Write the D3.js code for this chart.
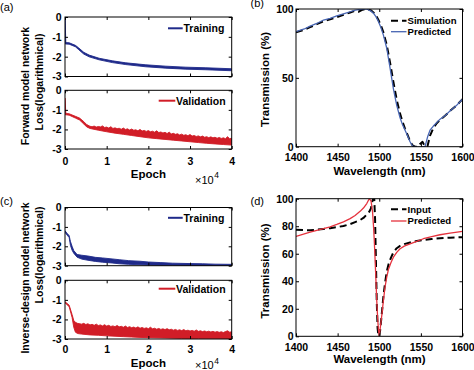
<!DOCTYPE html>
<html><head><meta charset="utf-8">
<script src="https://cdn.jsdelivr.net/npm/d3@7"></script>
<style>body{margin:0;background:#fff}svg{display:block}</style>
</head><body><svg id="c" width="474" height="370"></svg>
<script>
// ---------- DATA ----------
// (a) forward model network loss (epoch in units of 1e4, log10 loss)
const aTrainEpoch = [0,0.02,0.1,0.25,0.33,0.45,0.58,0.82,1.14,1.46,1.94,2.42,2.9,3.38,4.0];
const aTrainHi = [0,-1.29,-1.3,-1.43,-1.56,-1.78,-1.92,-2.08,-2.21,-2.31,-2.41,-2.48,-2.53,-2.56,-2.61];
const aTrainLo = [-1.35,-1.36,-1.37,-1.5,-1.65,-1.87,-2.01,-2.16,-2.3,-2.4,-2.51,-2.58,-2.63,-2.66,-2.71];
const aValHiE = [0,0.02,0.1,0.25,0.35,0.45,0.52,0.6,0.65,0.7,0.75,0.8,0.85,0.9,0.95,1,1.05,1.1,1.15,1.2,1.25,1.3,1.35,1.4,1.45,1.5,1.55,1.6,1.65,1.7,1.75,1.8,1.85,1.9,1.95,2,2.05,2.1,2.15,2.2,2.25,2.3,2.35,2.4,2.45,2.5,2.55,2.6,2.65,2.7,2.75,2.8,2.85,2.9,2.95,3,3.05,3.1,3.15,3.2,3.25,3.3,3.35,3.4,3.45,3.5,3.55,3.6,3.65,3.7,3.75,3.8,3.85,3.9,3.95,4];
const aValHi = [-0.4,-1.18,-1.2,-1.33,-1.42,-1.6,-1.75,
  -1.84,-1.86,-1.83,-1.88,-1.85,-1.87,-1.82,-1.9,-1.88,-1.93,
  -1.86,-1.95,-1.92,-1.96,-1.94,-1.99,-1.93,-2.0,-1.97,-2.03,
  -1.98,-2.04,-2.02,-2.07,-2.0,-2.08,-2.05,-2.1,-2.06,-2.12,
  -2.09,-2.14,-2.07,-2.16,-2.13,-2.18,-2.15,-2.21,-2.14,-2.23,
  -2.2,-2.25,-2.22,-2.28,-2.24,-2.3,-2.27,-2.32,-2.26,-2.34,
  -2.31,-2.36,-2.33,-2.38,-2.34,-2.4,-2.37,-2.42,-2.38,-2.43,
  -2.4,-2.45,-2.41,-2.46,-2.43,-2.47,-2.37,-2.47,-2.45];
const aValLoE = [0,0.02,0.1,0.25,0.35,0.45,0.52,0.6,0.8,1.0,1.2,1.4,1.6,1.8,2.0,2.2,2.4,2.6,2.8,3.0,3.2,3.4,3.6,3.8,4.0];
const aValLo = [-1.25,-1.25,-1.27,-1.42,-1.52,-1.72,-1.87,-1.95,-2.04,-2.12,-2.19,-2.25,-2.31,-2.37,-2.43,-2.47,-2.51,-2.55,-2.59,-2.63,-2.67,-2.71,-2.74,-2.77,-2.8];
// (c) inverse-design model network loss
const cTrainEpoch = [0,0.05,0.1,0.13,0.17,0.21,0.29,0.4,0.55,0.73,0.9,1.13,1.3,1.53,1.8,2.0,2.3,2.58,3.0,3.3,3.6,4.0];
const cTrainHi = [-1.2,-1.33,-1.45,-1.75,-2.0,-2.22,-2.42,-2.46,-2.5,-2.57,-2.6,-2.65,-2.69,-2.74,-2.77,-2.81,-2.84,-2.87,-2.89,-2.9,-2.92,-2.93];
const cTrainLo = [-1.28,-1.42,-1.55,-1.95,-2.2,-2.36,-2.56,-2.66,-2.72,-2.78,-2.82,-2.86,-2.9,-2.93,-2.95,-2.97,-2.98,-2.98,-2.99,-3.0,-3.0,-3.0];
const cValHiE = [0,0.05,0.1,0.17,0.21,0.25,0.3,0.4,0.45,0.5,0.55,0.6,0.65,0.7,0.75,0.8,0.85,0.9,0.95,1,1.05,1.1,1.15,1.2,1.25,1.3,1.35,1.4,1.45,1.5,1.55,1.6,1.65,1.7,1.75,1.8,1.85,1.9,1.95,2,2.05,2.1,2.15,2.2,2.25,2.3,2.35,2.4,2.45,2.5,2.55,2.6,2.65,2.7,2.75,2.8,2.85,2.9,2.95,3,3.05,3.1,3.15,3.2,3.25,3.3,3.35,3.4,3.45,3.5,3.55,3.6,3.65,3.7,3.75,3.8,3.85,3.9,3.95,4];
const cValHi = [-1.1,-1.18,-1.27,-1.75,-2.05,-2.15,-2.2,
  -2.24,-2.2,-2.26,-2.22,-2.28,-2.25,-2.3,-2.24,-2.31,-2.28,
  -2.33,-2.27,-2.34,-2.3,-2.36,-2.33,-2.37,-2.31,-2.38,-2.35,
  -2.4,-2.34,-2.41,-2.37,-2.42,-2.39,-2.44,-2.38,-2.45,-2.41,
  -2.46,-2.43,-2.47,-2.4,-2.48,-2.45,-2.5,-2.46,-2.51,-2.48,
  -2.52,-2.47,-2.53,-2.5,-2.55,-2.51,-2.56,-2.53,-2.57,-2.52,
  -2.58,-2.55,-2.59,-2.56,-2.6,-2.54,-2.61,-2.58,-2.62,-2.59,
  -2.63,-2.6,-2.64,-2.61,-2.65,-2.62,-2.66,-2.63,-2.67,-2.62,
  -2.58,-2.65,-2.63];
const cValLoE = [0,0.05,0.1,0.17,0.21,0.25,0.3,0.4,0.6,0.8,1.0,1.2,1.4,1.6,1.8,2.0,2.4,2.8,3.2,3.6,4.0];
const cValLo = [-1.15,-1.25,-1.35,-1.9,-2.4,-2.65,-2.72,-2.75,-2.79,-2.81,-2.84,-2.86,-2.88,-2.9,-2.92,-2.93,-2.95,-2.97,-2.98,-2.99,-3.0];
// (b) transmission spectra
const bWl = [1400,1410,1417,1425,1433,1441,1449,1457,1465,1470,1475,1480,1485,1490,1493,1496,1499,1502,1505,1509,1513,1517,1521,1525,1528,1531,1534,1537,1540,1543,1546,1549,1552,1555,1558,1561,1565,1569,1573,1580,1585,1592,1600];
const bSim = [83,85,86.8,89,91,92.5,94,95.8,97.5,98.5,98,99.5,100,99,97.5,95.5,92,88,83,74,61,47,34,24,18,13,8.5,4,1,0,0,2,3.5,0,0.5,8,13.5,17,19.5,23,26,29.5,34.5];
const bPred = [83.5,85.5,87.6,89.5,92,93.2,95,96.5,98,99,99.5,100,100,98.5,97,94.5,91,86.5,81,71.5,57,42,30,21,16,12,8,3.6,0.5,0,-0.5,-0.5,0,0,7,12,15,17.5,20,23,26,29.5,34.5];
// (d) transmission spectra
const dWl = [1400,1410,1417,1425,1433,1441,1449,1457,1465,1471,1477,1481,1485,1488,1490,1491,1492,1493,1494,1495,1496,1497,1498,1499,1500,1501,1502,1503,1505,1507,1509,1511,1514,1517,1521,1525,1530,1537,1545,1553,1563,1573,1585,1600];
const dInput = [77.4,77.2,77,77.5,78,78.6,79.3,80.2,81.5,83,84.5,86,88.5,90.5,93,96,99,100,100,85,55,25,6,0.5,0,4,10,16,29,39,47,52,57,61,64,65.7,67,68.2,69.2,70,70.7,71.2,71.7,72];
const dPred = [72.6,74.5,75.7,77,78.2,79.6,81.3,83.2,85.5,87.8,90.8,93.2,96.5,100,98.5,95,90,81,70,56,41,26,14,5,0.5,5,10,15,26,36,43,48.5,53.5,57.5,61,63.6,65.5,67.2,69,70.9,72.5,73.8,75,76.2];
// ticks
const epochTicks = [0,1,2,3,4];
const lossTicks = [-3,-2,-1,0];
const wlTicks = [1400,1450,1500,1550,1600];
const bTicks = [0,50,100];
const dTicks = [0,20,40,60,80,100];

// ---------- DRAW ----------
const FONT = "'Liberation Sans', Arial, Helvetica, sans-serif";
const svg = d3.select("#c");
const defs = svg.append("defs");
let clipN = 0;
const C_NAVY = "#1f2a8a", C_RED = "#d11d27", C_BLUE = "#4765b3", C_RED2 = "#e5323d";

function clipFor(x, y) {
  const id = "clip" + (clipN++);
  const [x0, x1] = x.range(), [y1, y0] = y.range();
  defs.append("clipPath").attr("id", id).append("rect")
    .attr("x", x0).attr("y", y0).attr("width", x1 - x0).attr("height", y1 - y0);
  return "url(#" + id + ")";
}

function boxAxes(g, x, y, xt, yt, opt) {
  const style = sel => sel.attr("font-family", FONT).attr("font-size", 10.5).attr("font-weight", "bold")
    .call(s => s.select(".domain").remove())
    .call(s => s.selectAll(".tick line").attr("stroke", "#000"))
    .call(s => s.selectAll(".tick text").attr("fill", "#000"));
  const [x0, x1] = x.range(), [y1, y0] = y.range();
  g.append("g").attr("transform", `translate(0,${y1})`)
    .call(d3.axisBottom(x).tickValues(xt).tickSizeInner(-3).tickSizeOuter(0).tickPadding(opt.xpad || 3)
      .tickFormat(opt.xlabels ? (d => String(d)) : (() => ""))).call(style);
  g.append("g").attr("transform", `translate(0,${y0})`)
    .call(d3.axisTop(x).tickValues(xt).tickSizeInner(-3).tickSizeOuter(0).tickFormat(() => "")).call(style);
  g.append("g").attr("transform", `translate(${x0},0)`)
    .call(d3.axisLeft(y).tickValues(yt).tickSizeInner(-3).tickSizeOuter(0).tickPadding(opt.ypad)
      .tickFormat(d => String(d))).call(style);
  g.append("g").attr("transform", `translate(${x1},0)`)
    .call(d3.axisRight(y).tickValues(yt).tickSizeInner(-3).tickSizeOuter(0).tickFormat(() => "")).call(style);
  g.append("rect").attr("x", x0).attr("y", y0).attr("width", x1 - x0).attr("height", y1 - y0)
    .attr("fill", "none").attr("stroke", "#000").attr("stroke-width", 1);
}

// filled band between an upper envelope and a lower envelope (each with its own x samples)
function band(g, x, y, hiE, hi, loE, lo, color, clip) {
  const up = hiE.map((e, i) => [x(e), y(hi[i])]);
  const dn = loE.map((e, i) => [x(e), y(lo[i])]).reverse();
  g.append("path").attr("clip-path", clip)
    .attr("d", d3.line()(up.concat(dn)) + "Z")
    .attr("fill", color).attr("stroke", color).attr("stroke-width", 0.9).attr("stroke-linejoin", "round");
}

function curve(g, x, y, xs, ys, color, w, dash, clip) {
  const data = xs.map((v, i) => [v, ys[i]]);
  g.append("path").datum(data).attr("clip-path", clip)
    .attr("d", d3.line().x(d => x(d[0])).y(d => y(d[1])))
    .attr("fill", "none").attr("stroke", color).attr("stroke-width", w)
    .attr("stroke-dasharray", dash || null).attr("stroke-linejoin", "round");
}

function text(g, str, x, y, size, weight, anchor, rot) {
  const t = g.append("text").attr("font-family", FONT).attr("font-size", size)
    .attr("font-weight", weight).attr("text-anchor", anchor || "start").attr("fill", "#000").text(str);
  if (rot) t.attr("transform", `translate(${x},${y}) rotate(${rot})`);
  else t.attr("x", x).attr("y", y);
  return t;
}

function legendLine(g, x1, x2, y, color, w, dash) {
  g.append("line").attr("x1", x1).attr("x2", x2).attr("y1", y).attr("y2", y)
    .attr("stroke", color).attr("stroke-width", w).attr("stroke-dasharray", dash || null);
}

function lossPanel(P) {
  const g = svg.append("g");
  const x = d3.scaleLinear().domain([0, 4]).range([P.x0, P.x1]);
  const yT = d3.scaleLinear().domain([-3, 0]).range([P.top[1], P.top[0]]);
  const yB = d3.scaleLinear().domain([-3, 0]).range([P.bot[1], P.bot[0]]);
  band(g, x, yT, P.trE, P.trHi, P.trE, P.trLo, C_NAVY, clipFor(x, yT));
  band(g, x, yB, P.vaHiE, P.vaHi, P.vaLoE, P.vaLo, C_RED, clipFor(x, yB));
  boxAxes(g, x, yT, epochTicks, lossTicks, { ypad: 3.5, xlabels: false });
  boxAxes(g, x, yB, epochTicks, lossTicks, { ypad: 3.5, xlabels: true, xpad: P.xpad });
  // legends
  legendLine(g, 168, 182.7, P.legT, C_NAVY, 2);
  text(g, "Training", 183.5, P.legT + 3.8, 10.5, "bold");
  legendLine(g, 158.7, 175.3, P.legB, C_RED, 2);
  text(g, "Validation", 176, P.legB + 3.8, 10.5, "bold");
  // labels
  text(g, "Epoch", (P.x0 + P.x1) / 2, P.epochY, 11.5, "bold", "middle");
  const e = text(g, "×10", 195, P.expY, 11, "normal");
  e.append("tspan").attr("font-size", 8.5).attr("dy", -5.5).attr("dx", 0.5).text("4");
  text(g, P.ylab1, 29, P.ylab1C, 10.5, "bold", "middle", -90);
  text(g, "Loss(logarithmical)", 43, P.ylab2C, 10.5, "bold", "middle", -90);
  text(g, P.tag, 0, P.tagY, 11, "normal");
}

lossPanel({ x0: 65, x1: 231.7, top: [17, 76.5], bot: [90.3, 149], xpad: 8.3,
  trE: aTrainEpoch, trHi: aTrainHi, trLo: aTrainLo, vaHiE: aValHiE, vaHi: aValHi, vaLoE: aValLoE, vaLo: aValLo,
  legT: 28.3, legB: 100.7, epochY: 177.6, expY: 183.5, ylab1: "Forward model network", ylab1C: 86, ylab2C: 82,
  tag: "(a)", tagY: 11 });
lossPanel({ x0: 65, x1: 231.7, top: [207.5, 265.7], bot: [280.3, 339], xpad: 6.3,
  trE: cTrainEpoch, trHi: cTrainHi, trLo: cTrainLo, vaHiE: cValHiE, vaHi: cValHi, vaLoE: cValLoE, vaLo: cValLo,
  legT: 217.8, legB: 288.7, epochY: 366.5, expY: 369.3, ylab1: "Inverse-design model network", ylab1C: 278, ylab2C: 255,
  tag: "(c)", tagY: 204.5 });

function specPanel(P) {
  const g = svg.append("g");
  const x = d3.scaleLinear().domain([1400, 1600]).range([296, 462.5]);
  const y = d3.scaleLinear().domain([0, 100]).range([P.y1, P.y0]);
  const clip = clipFor(x, y);
  curve(g, x, y, P.wl, P.ref, "#000", 2, "7,4", clip);
  curve(g, x, y, P.wl, P.pred, P.color, 1.3, null, clip);
  boxAxes(g, x, y, wlTicks, P.yt, { ypad: 2.3, xlabels: true, xpad: P.xpad });
  legendLine(g, 391, 406.5, P.leg1, "#000", 2, "7,4");
  text(g, P.refName, 407.5, P.leg1 + 3.4, 9.6, "bold");
  legendLine(g, 391, 406.5, P.leg2, P.color, 1.3);
  text(g, "Predicted", 407.5, P.leg2 + 3.4, 9.6, "bold");
  text(g, "Wavelength (nm)", 379.5, P.xlabY, 11.5, "bold", "middle");
  text(g, "Transmission (%)", 268.5, P.ylabC, 11.5, "bold", "middle", -90);
  text(g, P.tag, 250.5, P.tagY, 11, "normal");
}

specPanel({ y0: 9, y1: 146.7, wl: bWl, ref: bSim, pred: bPred, color: C_BLUE, yt: bTicks, xpad: 6.4,
  leg1: 20.7, leg2: 31.7, refName: "Simulation", xlabY: 174.6, ylabC: 79.5, tag: "(b)", tagY: 7 });
specPanel({ y0: 198.7, y1: 336.3, wl: dWl, ref: dInput, pred: dPred, color: C_RED2, yt: dTicks, xpad: 7.6,
  leg1: 209.3, leg2: 221, refName: "Input", xlabY: 362.6, ylabC: 271, tag: "(d)", tagY: 204.5 });
</script></body></html>
